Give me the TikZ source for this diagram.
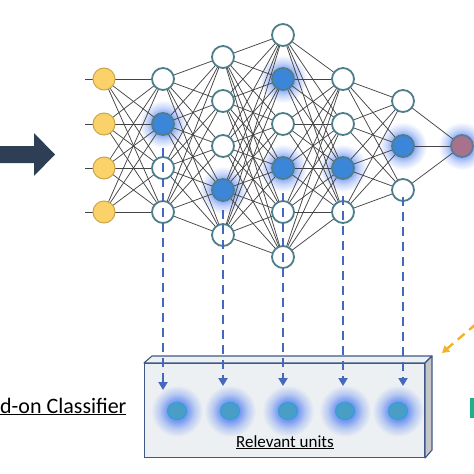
\documentclass[tikz,border=0pt]{standalone}
\usepackage{fontspec}
\setmainfont{Carlito}
\usetikzlibrary{arrows.meta,shapes.geometric}
\definecolor{edgegray}{HTML}{454545}
\definecolor{ringteal}{HTML}{4E7E8C}
\definecolor{unitblue}{HTML}{3C86DA}
\definecolor{inyellow}{HTML}{FBD26A}
\definecolor{inring}{HTML}{C9A64C}
\definecolor{outfill}{HTML}{A8728C}
\definecolor{outring}{HTML}{5A7C98}
\definecolor{glowblue}{HTML}{5B86F0}
\definecolor{dashblue}{HTML}{4468BC}
\definecolor{navy}{HTML}{2E3F55}
\definecolor{boxfill}{HTML}{EDF0F3}
\definecolor{boxline}{HTML}{3F5888}
\definecolor{sidegray}{HTML}{C4C6C8}
\definecolor{relfill}{HTML}{4A9EC6}
\definecolor{relring}{HTML}{2F9EDA}
\definecolor{arroworange}{HTML}{F2B22A}
\definecolor{tealgreen}{HTML}{1FB08C}
\pgfdeclareradialshading{glowwhite}{\pgfpoint{0bp}{0bp}}{color(0bp)=(glowblue);color(9bp)=(glowblue!85);color(17bp)=(glowblue!35);color(25bp)=(white);color(50bp)=(white)}
\pgfdeclareradialshading{glowbox}{\pgfpoint{0bp}{0bp}}{color(0bp)=(glowblue);color(9bp)=(glowblue!85!boxfill);color(17bp)=(glowblue!35!boxfill);color(25bp)=(boxfill);color(50bp)=(boxfill)}
\tikzset{
  neuron/.style={circle,minimum size=22pt,inner sep=0pt,line width=1.8pt,draw=ringteal,fill=white},
  active/.style={neuron,fill=unitblue},
  inunit/.style={neuron,draw=inring,line width=1pt,fill=inyellow},
  outunit/.style={neuron,draw=outring,fill=outfill},
  wire/.style={draw=edgegray,line width=0.75pt},
  relunit/.style={ellipse,minimum width=19pt,minimum height=17pt,inner sep=0pt,fill=relfill,draw=relring,line width=1pt},
  probe/.style={draw=dashblue,line width=2.8pt,dash pattern=on 9pt off 6pt,-{Triangle[length=8pt,width=9pt]}},
}
\begin{document}
\begin{tikzpicture}[x=1pt,y=-1pt]
\useasboundingbox (0,0) rectangle (474,474);
% big arrow
\fill[navy] (0,146) -- (34,146) -- (34,133) -- (55,154.5) -- (34,176) -- (34,163) -- (0,163) -- cycle;
% glows
\foreach \p in {(163,124),(223,190),(283,79),(283,168),(343,168),(403,146),(462,146)}
  \shade[shading=glowwhite] \p circle (24);
% layer coordinates
\foreach \i/\y in {1/79,2/124,3/168,4/212} {\coordinate (a\i) at (104,\y); \coordinate (b\i) at (163,\y);}
\foreach \i/\y in {1/57,2/101,3/146,4/190,5/235} \coordinate (c\i) at (223,\y);
\foreach \i/\y in {1/35,2/79,3/124,4/168,5/212,6/257} \coordinate (d\i) at (283,\y);
\foreach \i/\y in {1/79,2/124,3/168,4/212} \coordinate (e\i) at (343,\y);
\foreach \i/\y in {1/101,2/146,3/190} \coordinate (f\i) at (403,\y);
\coordinate (g1) at (462,146);
% wires
\foreach \i in {1,...,4} {\coordinate (s\i) at (85,0|-a\i); \draw[wire] (s\i) -- (a\i);}
\foreach \i in {1,...,4} \foreach \j in {1,...,4} \draw[wire] (a\i) -- (b\j);
\foreach \i in {1,...,4} \foreach \j in {1,...,5} \draw[wire] (b\i) -- (c\j);
\foreach \i in {1,...,5} \foreach \j in {1,...,6} \draw[wire] (c\i) -- (d\j);
\foreach \i in {1,...,6} \foreach \j in {1,...,4} \draw[wire] (d\i) -- (e\j);
\foreach \i in {1,...,4} \foreach \j in {1,...,3} \draw[wire] (e\i) -- (f\j);
\foreach \i in {1,...,3} \draw[wire] (f\i) -- (g1);
% neurons
\foreach \i in {1,...,4} \node[inunit] (A\i) at (a\i) {};
\foreach \i in {1,3,4} \node[neuron] (B\i) at (b\i) {};
\node[active] (B2) at (b2) {};
\foreach \i in {1,2,3,5} \node[neuron] (C\i) at (c\i) {};
\node[active] (C4) at (c4) {};
\foreach \i in {1,3,5,6} \node[neuron] (D\i) at (d\i) {};
\node[active] (D2) at (d2) {};
\node[active] (D4) at (d4) {};
\foreach \i in {1,2,4} \node[neuron] (E\i) at (e\i) {};
\node[active] (E3) at (e3) {};
\foreach \i in {1,3} \node[neuron] (F\i) at (f\i) {};
\node[active] (F2) at (f2) {};
\node[outunit] (G1) at (g1) {};
% box
\coordinate (bl) at (144,458);
\coordinate (tl) at (152,356);
\coordinate (tr) at (432,356);
\coordinate (br) at (432,450);
\node[draw=boxline,line width=1.1pt,fill=boxfill,minimum width=280pt,minimum height=94pt,inner sep=0pt,anchor=south west] (box) at (bl) {};
\fill[boxfill,draw=boxline,line width=1.1pt,line join=round] (box.north west) -- (tl) -- (tr) -- (box.north east) -- cycle;
\fill[sidegray,draw=boxline,line width=1.1pt,line join=round] (box.north east) -- (tr) -- (br) -- (box.south east) -- cycle;
% relevant units
\foreach \n/\x in {1/177,2/230,3/288,4/345,5/398} {
  \shade[shading=glowbox] (\x,411) circle (26);
  \node[relunit] (R\n) at (\x,411) {};
}
\node[anchor=base,font=\fontsize{17}{17}\selectfont] (lbl) at (285,447) {\underline{Relevant units}};
% probes
\coordinate (p2) at (163,148); \coordinate (q2) at (163,390);
\coordinate (p3) at (223,210); \coordinate (q3) at (223,386);
\coordinate (p4) at (283,193); \coordinate (q4) at (283,386);
\coordinate (p5) at (343,196); \coordinate (q5) at (343,386);
\coordinate (p6) at (403,197); \coordinate (q6) at (403,386);
\foreach \k in {2,...,6} \draw[probe] (p\k) -- (q\k);
% add-on classifier label
\node[anchor=base west,inner sep=0pt,font=\fontsize{22}{22}\selectfont] (cls) at (0,413) {\underline{d-on Classifier}};
% orange arrow
\coordinate (o1) at (476,324);
\coordinate (o2) at (442,353);
\draw[arroworange,line width=2.4pt,dash pattern=on 9pt off 6pt,-{Triangle[length=7pt,width=8pt]}] (o1) -- (o2);
% green fragment
\fill[tealgreen] (470,398) rectangle (474,418);
\end{tikzpicture}
\end{document}
